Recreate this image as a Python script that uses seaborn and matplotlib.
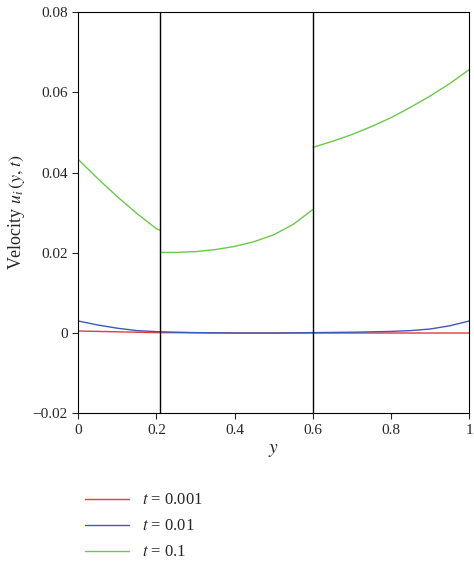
import numpy as np
import matplotlib
matplotlib.use("Agg")
import matplotlib.pyplot as plt
import seaborn as sns
import pandas as pd

sns.set_style("ticks")
plt.rcParams['font.family'] = ['Liberation Serif', 'DejaVu Serif']
plt.rcParams['mathtext.fontset'] = 'stix'

# data
seg1_y = [0.0, 0.05, 0.1, 0.15, 0.2, 0.21]
seg1_g = [0.0433, 0.0385, 0.0340, 0.0298, 0.0260, 0.0256]
seg2_y = [0.21, 0.25, 0.3, 0.35, 0.4, 0.45, 0.5, 0.55, 0.6]
seg2_g = [0.0201, 0.0201, 0.0203, 0.0208, 0.0216, 0.0228, 0.0245, 0.0271, 0.0308]
seg3_y = [0.6, 0.65, 0.7, 0.75, 0.8, 0.85, 0.9, 0.95, 1.0]
seg3_g = [0.0463, 0.0478, 0.0495, 0.0515, 0.0537, 0.0563, 0.0591, 0.0622, 0.0657]
blue_y = [0.0, 0.05, 0.1, 0.15, 0.21, 0.3, 0.4, 0.5, 0.6, 0.7, 0.8, 0.85, 0.9, 0.95, 1.0]
blue_v = [0.0030, 0.0020, 0.0012, 0.0006, 0.0003, 0.0001, 0.0, 0.0, 0.0001, 0.0002, 0.0004, 0.0006, 0.0010, 0.0018, 0.0030]
red_y = [0.0, 0.2, 0.4, 0.6, 0.8, 1.0]
red_v = [0.0005, 0.0001, 0.0, 0.0, 0.0, 0.0]
breaks = [0.21, 0.6]

fig = plt.figure(figsize=(4.74, 5.82), dpi=100)
ax = fig.add_axes([0.165, 0.29, 0.825, 0.689])

sns.lineplot(x=red_y, y=red_v, ax=ax, color='#e8383d', lw=1, label='$t$ = 0.001')
sns.lineplot(x=blue_y, y=blue_v, ax=ax, color='#3a5cb4', lw=1, label='$t$ = 0.01')
sns.lineplot(x=seg1_y, y=seg1_g, ax=ax, color='#6cc94a', lw=1, label='$t$ = 0.1')
sns.lineplot(x=seg2_y, y=seg2_g, ax=ax, color='#6cc94a', lw=1)
sns.lineplot(x=seg3_y, y=seg3_g, ax=ax, color='#6cc94a', lw=1)
for b in breaks:
    ax.axvline(b, color='black', lw=1)

ax.set_xlim(0, 1)
ax.set_ylim(-0.02, 0.08)
ax.set_xticks([0, 0.2, 0.4, 0.6, 0.8, 1])
ax.set_xticklabels(['0', '0.2', '0.4', '0.6', '0.8', '1'])
ax.set_yticks([-0.02, 0, 0.02, 0.04, 0.06, 0.08])
ax.set_yticklabels(['−0.02', '0', '0.02', '0.04', '0.06', '0.08'])
ax.tick_params(labelsize=11, length=4)
ax.set_xlabel('$y$', fontsize=14)
ax.set_ylabel('Velocity $u_i\\,(y, t)$', fontsize=13)
for s in ax.spines.values():
    s.set_visible(True)
    s.set_color('black')

ax.legend(loc='upper left', bbox_to_anchor=(-0.02, -0.16), frameon=False,
          fontsize=12, handlelength=2.6, labelspacing=0.6)
fig.savefig('out.png', dpi=100)
